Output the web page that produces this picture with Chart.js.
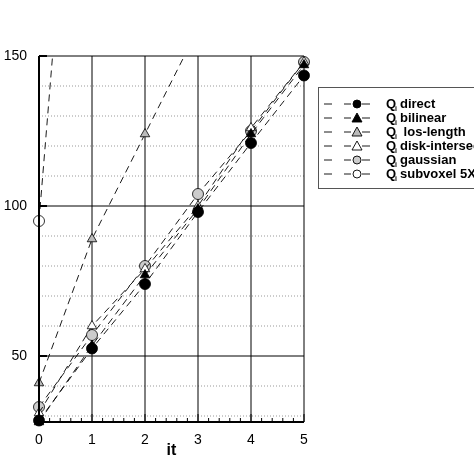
<!DOCTYPE html><html><head><script src="https://cdn.jsdelivr.net/npm/chart.js@4"></script>
<style>body{margin:0;background:#fff}#w{width:474px;height:474px}</style></head><body><div id="w"><canvas id="c"></canvas></div>
<script>
const iters=[0,1,2,3,4,5];
const direct=[28.5,52.5,74,98,121,143.5];
const bilinear=[28,53.5,77,99,124,147];
const losLength=[41,89,124,159,194,229];
const diskIntersect=[31,60,79,100,126,148];
const gaussian=[33,57,80,104,125,148];
const subvoxel=[95,310,520,730,940,1150];
const yTicks=[30,40,50,60,70,80,90,100,110,120,130,140,150];
const labels=['Q','Q','Q','Q','Q','Q'];
const names=['direct','bilinear',' los-length','disk-intersec','gaussian','subvoxel 5X5'];
const mk=(d,style,fill)=>({data:d.map((y,i)=>({x:iters[i],y})),pointStyle:style,backgroundColor:fill,borderColor:'#000',pointBorderColor:'#000',pointBackgroundColor:fill,pointRadius:5.5,pointBorderWidth:0.8,borderWidth:0.9,borderDash:[7,5],showLine:true});
const sets=[mk(direct,'circle','#000'),mk(bilinear,'triangle','#000'),mk(losLength,'triangle','#bbb'),mk(diskIntersect,'triangle','#fff'),mk(gaussian,'circle','#ccc'),mk(subvoxel,'circle','#fff')];
sets.forEach(s=>s.clip={left:10,right:10,top:0,bottom:10});
const deco={id:'deco',
beforeDatasetsDraw(ch){const c=ch.ctx,a=ch.chartArea,x=ch.scales.x,y=ch.scales.y;c.save();
 yTicks.forEach(v=>{const p=y.getPixelForValue(v);c.beginPath();if(v%50===0){c.setLineDash([]);c.strokeStyle='#000';c.lineWidth=1;}else{c.setLineDash([1,2]);c.strokeStyle='#999';c.lineWidth=1;}c.moveTo(a.left,p);c.lineTo(a.right,p);c.stroke();});
 c.setLineDash([]);c.strokeStyle='#000';c.lineWidth=1;
 iters.forEach(v=>{const p=x.getPixelForValue(v);c.beginPath();c.moveTo(p,a.top);c.lineTo(p,a.bottom);c.stroke();});
 c.restore();},
afterDraw(ch){const c=ch.ctx,a=ch.chartArea,x=ch.scales.x,y=ch.scales.y;c.save();c.strokeStyle='#000';
 c.lineWidth=2;c.beginPath();c.moveTo(a.left,a.top);c.lineTo(a.left,a.bottom);c.lineTo(a.right,a.bottom);c.stroke();
 c.lineWidth=1;for(let v=0;v<=5.001;v+=0.2){const p=x.getPixelForValue(v);const L=Math.abs(v-Math.round(v))<0.01?8:4;c.beginPath();c.moveTo(p,a.bottom);c.lineTo(p,a.bottom-L);c.stroke();}
 [50,100,150].forEach(v=>{const p=y.getPixelForValue(v);c.lineWidth=2;c.beginPath();c.moveTo(a.left,p);c.lineTo(a.left+8,p);c.stroke();});
 const lx=318,ly=87,lw=160,lh=101;c.fillStyle='#fff';c.fillRect(lx,ly,lw,lh);c.lineWidth=1;c.strokeStyle='#555';c.strokeRect(lx+0.5,ly+0.5,lw,lh);
 const styles=[['circle','#000'],['triangle','#000'],['triangle','#bbb'],['triangle','#fff'],['circle','#ccc'],['circle','#fff']];
 styles.forEach((s,i)=>{const yy=ly+17+i*14;c.strokeStyle='#000';c.lineWidth=0.9;c.setLineDash([]);
  [[324,332],[344,351],[362,370]].forEach(([a1,a2])=>{c.beginPath();c.moveTo(a1,yy);c.lineTo(a2,yy);c.stroke();});
  c.fillStyle=s[1];c.beginPath();if(s[0]==='circle'){c.arc(357,yy,4,0,7);}else{c.moveTo(357,yy-5);c.lineTo(362,yy+4);c.lineTo(352,yy+4);c.closePath();}c.fill();c.stroke();
  c.fillStyle='#000';c.font='bold 13px "Liberation Sans"';c.textBaseline='middle';c.fillText(labels[i],386,yy);c.font='bold 7px "Liberation Sans"';c.fillText('i',395,yy+5);c.font='bold 13px "Liberation Sans"';c.fillText(names[i],400,yy);});
 c.restore();}};
new Chart(document.getElementById('c'),{type:'scatter',data:{datasets:sets},plugins:[deco],
options:{responsive:true,maintainAspectRatio:false,animation:false,layout:{padding:{left:0,right:170,top:56,bottom:14}},
plugins:{legend:{display:false},tooltip:{enabled:false}},
scales:{x:{type:'linear',min:0,max:5,afterFit:s=>{s.height=38},ticks:{stepSize:1,color:'#000',font:{size:14,family:'Liberation Sans'},padding:2},grid:{display:false},border:{display:false},title:{display:true,text:'it',color:'#000',font:{size:16,weight:'bold',family:'Liberation Sans'},padding:0}},
y:{min:28,max:150,afterFit:s=>{s.width=39},afterBuildTicks:s=>{s.ticks=yTicks.map(v=>({value:v}))},ticks:{color:'#000',font:{size:14,family:'Liberation Sans'},padding:4,callback:v=>v%50===0?v:''},grid:{display:false},border:{display:false}}}}});
</script></body></html>
